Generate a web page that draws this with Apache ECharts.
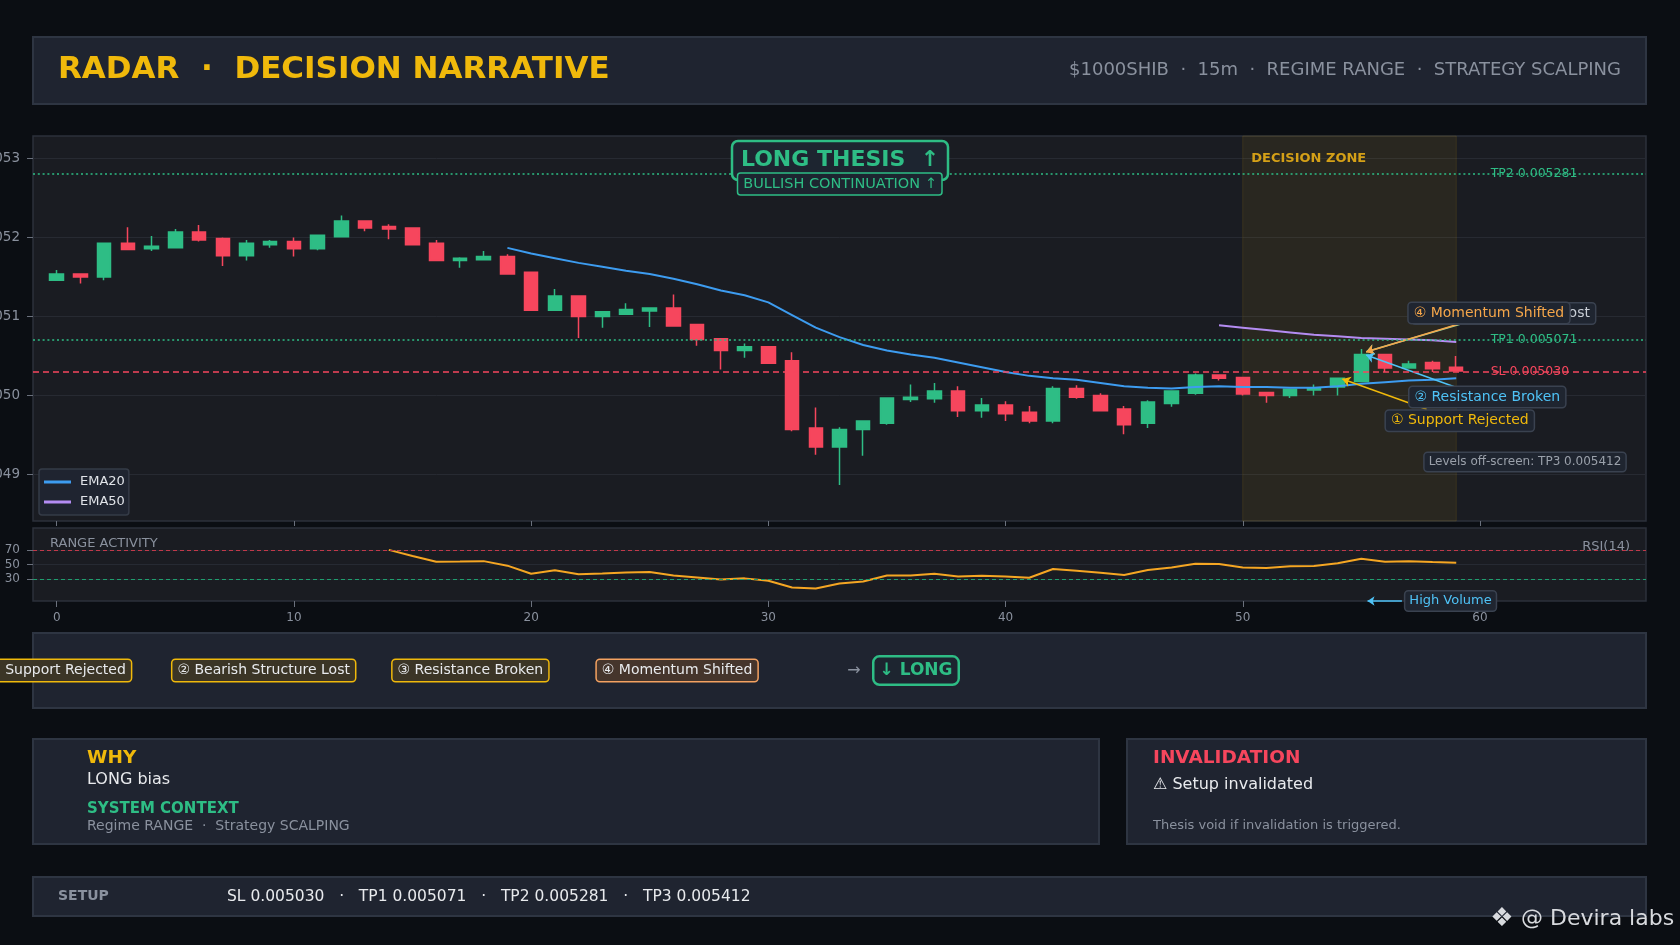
<!DOCTYPE html>
<html>
<head>
<meta charset="utf-8">
<title>RADAR · DECISION NARRATIVE</title>
<script src="https://cdn.jsdelivr.net/npm/echarts@6.0.0/dist/echarts.min.js"></script>
<style>
  html, body { margin: 0; padding: 0; background: #0b0e13; }
  #radar { width: 1680px; height: 945px; }
</style>
</head>
<body>
<div id="radar"></div>
<script>
// 15m candles, index 0..59
var opens  = [0.005146,0.005154,0.005150,0.005193,0.005186,0.005187,0.005207,0.005199,0.005177,0.005191,
              0.005195,0.005186,0.005201,0.005221,0.005214,0.005212,0.005193,0.005171,0.005172,0.005176,
              0.005156,0.005108,0.005126,0.005100,0.005103,0.005107,0.005111,0.005090,0.005072,0.005057,
              0.005062,0.005044,0.004959,0.004935,0.004957,0.004965,0.004995,0.004996,0.005006,0.004981,
              0.004988,0.004979,0.004968,0.005009,0.005000,0.004983,0.004965,0.004990,0.005003,0.005026,
              0.005023,0.005004,0.005000,0.005007,0.005011,0.005018,0.005052,0.005035,0.005042,0.005036];
var closes = [0.005154,0.005150,0.005193,0.005185,0.005189,0.005207,0.005197,0.005177,0.005193,0.005195,
              0.005186,0.005203,0.005221,0.005212,0.005211,0.005191,0.005171,0.005174,0.005176,0.005154,
              0.005108,0.005126,0.005100,0.005106,0.005109,0.005111,0.005088,0.005071,0.005057,0.005062,
              0.005041,0.004957,0.004935,0.004957,0.004968,0.004997,0.004998,0.005006,0.004981,0.004988,
              0.004977,0.004968,0.005009,0.004998,0.004981,0.004963,0.004992,0.005006,0.005026,0.005022,
              0.005002,0.005000,0.005008,0.005009,0.005022,0.005052,0.005035,0.005040,0.005034,0.005031];
var lows   = [0.005146,0.005142,0.005146,0.005184,0.005183,0.005187,0.005195,0.005164,0.005171,0.005187,
              0.005176,0.005184,0.005201,0.005208,0.005198,0.005190,0.005171,0.005162,0.005171,0.005154,
              0.005108,0.005108,0.005073,0.005086,0.005103,0.005087,0.005088,0.005063,0.005033,0.005048,
              0.005040,0.004955,0.004925,0.004887,0.004924,0.004963,0.004992,0.004991,0.004973,0.004972,
              0.004968,0.004965,0.004965,0.004996,0.004981,0.004951,0.004959,0.004986,0.005001,0.005019,
              0.005000,0.004991,0.004997,0.005000,0.005000,0.005018,0.005030,0.005035,0.005030,0.005031];
var highs  = [0.005159,0.005154,0.005193,0.005213,0.005202,0.005211,0.005216,0.005200,0.005197,0.005197,
              0.005200,0.005203,0.005228,0.005222,0.005217,0.005212,0.005197,0.005175,0.005183,0.005179,
              0.005156,0.005135,0.005126,0.005107,0.005117,0.005111,0.005128,0.005090,0.005072,0.005066,
              0.005062,0.005055,0.004985,0.004960,0.004968,0.004997,0.005014,0.005016,0.005012,0.004997,
              0.004993,0.004987,0.005012,0.005013,0.005003,0.004987,0.004994,0.005006,0.005028,0.005026,
              0.005023,0.005004,0.005008,0.005014,0.005023,0.005059,0.005052,0.005044,0.005044,0.005050];

// EMA20 from candle 19, EMA50 from candle 49
var ema20Start = 19;
var ema20 = [0.005187,0.005180,0.005174,0.005168,0.005163,0.005158,0.005154,0.005148,0.005141,0.005133,
             0.005127,0.005118,0.005102,0.005086,0.005074,0.005064,0.005057,0.005052,0.005048,0.005042,
             0.005036,0.005030,0.005025,0.005022,0.005020,0.005016,0.005012,0.005010,0.005009,0.005011,
             0.005012,0.005011,0.005011,0.005010,0.005010,0.005012,0.005015,0.005017,0.005019,0.005020,0.005022];
var ema50Start = 49;
var ema50 = [0.005089,0.005086,0.005083,0.005080,0.005077,0.005075,0.005073,0.005072,0.005071,0.005070,0.005068];

// RSI(14) from candle 14
var rsiStart = 14;
var rsi = [70,61.7,53.9,54,54.6,48.4,37.4,42,36.5,37.8,39.2,39.7,35,32.3,29.6,31,27.7,18.5,17.2,24,
           26.8,35,35,37.4,33.7,34.6,33.7,31.8,43.8,41.5,38.7,35.5,42.4,46,51,50.6,46,45.2,47.5,48,
           51.6,58,53.9,54.6,53.4,52.5];

// trade levels
var levelNames  = ['TP2', 'TP1', 'SL'];
var levelValues = [0.005281, 0.005071, 0.005030];
var offName = 'TP3', offValue = 0.005412;

var xTicks = [0, 10, 20, 30, 40, 50, 60];
var priceTicks = [0.0049, 0.0050, 0.0051, 0.0052, 0.0053];
var rsiTicks = [30, 50, 70];
var zoneFrom = 50, zoneTo = 59;

var steps = ['① Support Rejected', '② Bearish Structure Lost', '③ Resistance Broken', '④ Momentum Shifted'];

var GREEN = '#2ebd85', RED = '#f6465d', GOLD = '#f0b90b', GREY = '#8a919e';
var FONT = '"DejaVu Sans"';

function pts(start, arr) {
  return arr.map(function (v, i) { return [start + i, v]; });
}
var candles = opens.map(function (o, i) { return [i, o, closes[i], lows[i], highs[i]]; });

// chart notes: label centre, arrow start, arrow target (data coords)
var notes = [
  { text: '② Bearish Structure Lost', color: '#c9ced6', line: '#8fd6a0', at: [61.0, 0.0051039], from: [59.30, 0.0050915], to: [55.2, 0.0050556] },
  { text: '④ Momentum Shifted',       color: '#f5a64a', line: '#f5a64a', at: [60.38, 0.0051046], from: [59.11, 0.0050906], to: [55.2, 0.0050552] },
  { text: '② Resistance Broken',      color: '#4fc3f7', line: '#4fc3f7', at: [60.31, 0.0049982], from: [58.92, 0.0050113], to: [55.2, 0.0050514] },
  { text: '① Support Rejected',       color: GOLD,      line: GOLD,      at: [59.15, 0.0049682], from: [57.75, 0.0049827], to: [54.2, 0.0050210] }
];

var g = [];
function panel(x, y, w, h) {
  g.push({ type: 'rect', z: 1, shape: { x: x, y: y, width: w, height: h },
           style: { fill: '#1f2430', stroke: '#2e3542', lineWidth: 2 } });
}
function txt(x, y, t, font, fill, align, box) {
  var s = { text: t, font: font + ' ' + FONT, fill: fill,
            align: align || 'left', textAlign: align || 'left',
            verticalAlign: 'middle', textVerticalAlign: 'middle' };
  if (box) { for (var k in box) s[k] = box[k]; }
  g.push({ type: 'text', x: x, y: y, z: 100, style: s });
}

// header
panel(33, 37, 1613, 67);
txt(58, 70, 'RADAR  ·  DECISION NARRATIVE', 'bold 31px', GOLD);
txt(1621, 70, '$1000SHIB  ·  15m  ·  REGIME RANGE  ·  STRATEGY SCALPING', '18px', GREY, 'right');

// thesis badge
g.push({ type: 'rect', z: 99, shape: { x: 732, y: 141, width: 216, height: 39, r: 6 },
         style: { fill: '#1d2530', stroke: GREEN, lineWidth: 2.5 } });
txt(840, 160, 'LONG THESIS  ↑', 'bold 22px', GREEN, 'center');
g.push({ type: 'rect', z: 100, shape: { x: 737.5, y: 173, width: 204.5, height: 22, r: 3 },
         style: { fill: '#1d2530', stroke: GREEN, lineWidth: 1.5 } });
txt(840, 184, 'BULLISH CONTINUATION ↑', '14.5px', GREEN, 'center');

// rsi panel captions
txt(50, 544, 'RANGE ACTIVITY', '13px', GREY);
txt(1630, 547, 'RSI(14)', '13px', GREY, 'right');
txt(1525, 462, 'Levels off-screen: ' + offName + ' ' + offValue.toFixed(6), '12px', '#9aa0aa', 'center',
    { backgroundColor: '#1f2530', borderColor: '#3a4250', borderWidth: 1.5, borderRadius: 3, padding: [3, 4] });

// flow strip
panel(33, 633, 1613, 75);
steps.forEach(function (s, i) {
  var last = i === steps.length - 1;
  txt(57 + i * 206.7, 670.5, s, '14px', '#e8eaed', 'center', {
    backgroundColor: last ? '#45352c' : '#3b3526', borderColor: last ? '#f4a261' : GOLD,
    borderWidth: 1.5, borderRadius: 3, padding: [4, 5, 3, 5] });
});
txt(854, 670.5, '→', '16px', GREY, 'center');
txt(916, 670.5, '↓ LONG', 'bold 17px', GREEN, 'center',
    { backgroundColor: '#1d2530', borderColor: GREEN, borderWidth: 2.5, borderRadius: 5, padding: [5, 5, 4, 5] });

// why / invalidation
panel(33, 739, 1066, 105);
txt(87, 758, 'WHY', 'bold 18.5px', GOLD);
txt(87, 780, 'LONG bias', '16px', '#e8eaed');
txt(87, 809, 'SYSTEM CONTEXT', 'bold 15px', GREEN);
txt(87, 826, 'Regime RANGE  ·  Strategy SCALPING', '14px', GREY);
panel(1127, 739, 519, 105);
txt(1153, 758, 'INVALIDATION', 'bold 18.5px', RED);
txt(1153, 785, '⚠ Setup invalidated', '16px', '#e8eaed');
txt(1153, 826, 'Thesis void if invalidation is triggered.', '13px', GREY);

// setup line: SL, TP1, TP2, TP3
panel(33, 877, 1613, 39);
txt(58, 896.5, 'SETUP', 'bold 14px', GREY);
var setupParts = [];
for (var i = levelNames.length - 1; i >= 0; i--) setupParts.push(levelNames[i] + ' ' + levelValues[i].toFixed(6));
setupParts.push(offName + ' ' + offValue.toFixed(6));
txt(227, 896.5, setupParts.join('   ·   '), '15.5px', '#e8eaed');

// watermark
txt(1502, 919, '❖', '26px', '#d8dade', 'center');
txt(1521, 919, '@ Devira labs', '22px', '#d8dade');

var chart = echarts.init(document.getElementById('radar'), null, { renderer: 'canvas' });

chart.setOption({
  backgroundColor: '#0b0e13',
  animation: false,
  textStyle: { fontFamily: 'DejaVu Sans' },
  legend: {
    data: ['EMA20', 'EMA50'],
    orient: 'vertical', left: 39, top: 469,
    icon: 'rect', itemWidth: 27, itemHeight: 3, itemGap: 6,
    padding: [6, 4, 6, 5],
    backgroundColor: '#1f2430', borderColor: '#353b47', borderWidth: 1.5, borderRadius: 3,
    textStyle: { color: '#e0e3e8', fontSize: 13, lineHeight: 14, padding: [0, 0, 0, 4] }
  },
  grid: [
    { left: 33, top: 136, width: 1613, height: 385, show: true, backgroundColor: '#1a1c22',
      borderColor: '#2c313b', borderWidth: 1.5, containLabel: false, outerBoundsMode: 'none' },
    { left: 33, top: 528, width: 1613, height: 73, show: true, backgroundColor: '#1a1c22',
      borderColor: '#2c313b', borderWidth: 1.5, containLabel: false, outerBoundsMode: 'none' }
  ],
  xAxis: [
    { type: 'value', gridIndex: 0, min: -1, max: 67,
      axisLine: { show: false, onZero: false },
      axisTick: { show: true, length: 5, customValues: xTicks, lineStyle: { color: '#6b717d' } },
      axisLabel: { show: false },
      splitLine: { show: false } },
    { type: 'value', gridIndex: 1, min: -1, max: 67,
      axisLine: { show: false, onZero: false },
      axisTick: { show: true, length: 6, customValues: xTicks, lineStyle: { color: '#6b717d' } },
      axisLabel: { show: true, customValues: xTicks, color: GREY, fontSize: 12, margin: 11 },
      splitLine: { show: false } }
  ],
  yAxis: [
    { type: 'value', gridIndex: 0, min: 0.0048413, max: 0.0053286, scale: true,
      axisLine: { show: false, onZero: false },
      axisTick: { show: true, length: 6, customValues: priceTicks, lineStyle: { color: '#6b717d' } },
      axisLabel: { show: true, customValues: priceTicks, color: GREY, fontSize: 13.5, margin: 13,
                   formatter: function (v) { return v.toFixed(4); } },
      splitLine: { show: true, lineStyle: { color: '#272a32', width: 1 } } },
    { type: 'value', gridIndex: 1, min: 0, max: 100,
      axisLine: { show: false, onZero: false },
      axisTick: { show: true, length: 6, customValues: rsiTicks, lineStyle: { color: '#6b717d' } },
      axisLabel: { show: true, customValues: rsiTicks, color: GREY, fontSize: 12, margin: 13 },
      splitLine: { show: true, lineStyle: { color: '#262a33', width: 1 } } }
  ],
  graphic: g,
  series: [
    {
      name: 'Price', type: 'candlestick', xAxisIndex: 0, yAxisIndex: 0,
      data: candles, encode: { x: 0, y: [1, 2, 3, 4] },
      barWidth: 14,
      itemStyle: { color: GREEN, color0: RED, borderColor: GREEN, borderColor0: RED, borderWidth: 1.5 },
      markArea: {
        silent: true,
        itemStyle: { color: 'rgba(240,185,11,0.07)', borderColor: 'rgba(240,185,11,0.12)', borderWidth: 1 },
        label: { show: true, position: 'insideTopLeft', distance: 9, offset: [0, 8],
                 color: '#d4a017', fontWeight: 'bold', fontSize: 13 },
        data: [[{ name: 'DECISION ZONE', xAxis: zoneFrom }, { xAxis: zoneTo }]]
      },
      markLine: {
        silent: true, symbol: ['none', 'arrow'], symbolSize: 8, precision: 8,
        label: { show: false },
        data: notes.map(function (n) {
          return [{ coord: n.from, lineStyle: { color: n.line, width: 1.5, type: 'solid' } },
                  { coord: n.to }];
        })
      },
      markPoint: {
        silent: true, symbol: 'circle', symbolSize: 1,
        itemStyle: { color: 'rgba(0,0,0,0)' },
        label: { show: true, position: 'inside', formatter: '{b}', fontSize: 14,
                 backgroundColor: '#1f2530', borderColor: '#3a4250', borderWidth: 1.5,
                 borderRadius: 3, padding: [3, 5] },
        data: notes.map(function (n) {
          return { name: n.text, coord: n.at, label: { color: n.color } };
        })
      }
    },
    {
      name: 'EMA20', type: 'line', xAxisIndex: 0, yAxisIndex: 0,
      data: pts(ema20Start, ema20), showSymbol: false, symbol: 'none',
      lineStyle: { color: '#3d9cf0', width: 2 }, itemStyle: { color: '#3d9cf0' }, z: 3,
      markLine: {
        silent: true, symbol: ['none', 'none'], precision: 8, label: { show: false },
        data: levelValues.map(function (v, i) {
          var sl = levelNames[i] === 'SL';
          return { yAxis: v, lineStyle: { color: sl ? RED : GREEN, width: 1.6, type: sl ? [6, 4] : [2, 2.8] } };
        })
      },
      markPoint: {
        silent: true, symbol: 'circle', symbolSize: 1, itemStyle: { color: 'rgba(0,0,0,0)' },
        label: { show: true, position: 'right', distance: 0, formatter: '{b}', fontSize: 12.5 },
        data: levelValues.map(function (v, i) {
          return { name: levelNames[i] + ' ' + v.toFixed(6), coord: [60.43, v],
                   label: { color: levelNames[i] === 'SL' ? RED : GREEN } };
        })
      }
    },
    {
      name: 'EMA50', type: 'line', xAxisIndex: 0, yAxisIndex: 0,
      data: pts(ema50Start, ema50), showSymbol: false, symbol: 'none',
      lineStyle: { color: '#b48cf2', width: 2 }, itemStyle: { color: '#b48cf2' }, z: 3
    },
    {
      name: 'RSI', type: 'line', xAxisIndex: 1, yAxisIndex: 1, clip: false,
      data: pts(rsiStart, rsi), showSymbol: false, symbol: 'none',
      lineStyle: { color: '#f5a623', width: 2 }, itemStyle: { color: '#f5a623' },
      markLine: {
        silent: true, symbol: ['none', 'none'], label: { show: false },
        data: [
          { yAxis: 70, lineStyle: { color: '#c0394a', width: 1, type: [4, 3] } },
          { yAxis: 30, lineStyle: { color: '#1f9e6e', width: 1, type: [4, 3] } },
          [{ coord: [56.71, 0], symbol: 'none', lineStyle: { color: '#4fc3f7', width: 1.5, type: 'solid' } },
           { coord: [55.26, 0], symbol: 'arrow', symbolSize: 7 }]
        ]
      },
      markPoint: {
        silent: true, symbol: 'circle', symbolSize: 1, itemStyle: { color: 'rgba(0,0,0,0)' },
        label: { show: true, position: 'inside', formatter: '{b}', fontSize: 13, color: '#4fc3f7',
                 backgroundColor: '#1f2530', borderColor: '#3a4250', borderWidth: 1.5,
                 borderRadius: 3, padding: [3, 4] },
        data: [{ name: 'High Volume', coord: [58.76, 0] }]
      }
    }
  ]
});
</script>
</body>
</html>
